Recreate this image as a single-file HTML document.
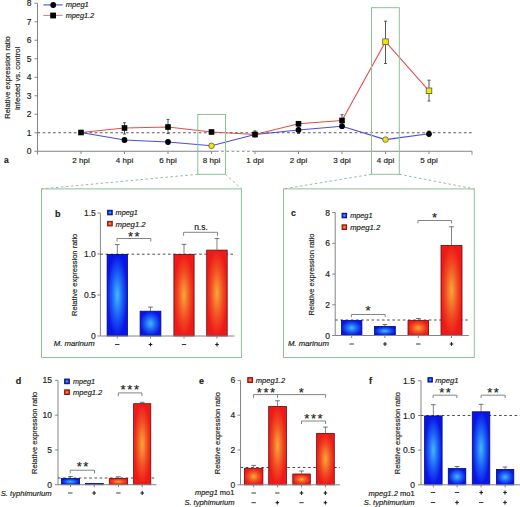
<!DOCTYPE html>
<html><head><meta charset="utf-8"><style>
html,body{margin:0;padding:0;background:#fff;width:520px;height:507px;overflow:hidden}
svg{display:block;font-family:"Liberation Sans", sans-serif}
</style></head><body>
<svg width="520" height="507" viewBox="0 0 520 507">
<defs>
<radialGradient id="gb" cx="0.5" cy="0.5" r="0.5"><stop offset="0" stop-color="#45b8ff"/><stop offset="0.55" stop-color="#1a5cf5"/><stop offset="1" stop-color="#0a14e6"/></radialGradient>
<radialGradient id="gr" cx="0.5" cy="0.5" r="0.5"><stop offset="0" stop-color="#f8a838"/><stop offset="0.6" stop-color="#f04a22"/><stop offset="1" stop-color="#ee1a1a"/></radialGradient>
</defs>
<line x1="37.5" y1="3.25" x2="37.5" y2="154.5" stroke="#838486" stroke-width="1" />
<line x1="34.5" y1="151.25" x2="37.5" y2="151.25" stroke="#838486" stroke-width="1" />
<text x="31.6" y="154.3" font-size="8.5" text-anchor="end" font-weight="normal" font-style="normal" fill="#231f20" stroke="#231f20" stroke-width="0.18" >0</text>
<line x1="34.5" y1="132.75" x2="37.5" y2="132.75" stroke="#838486" stroke-width="1" />
<text x="31.6" y="135.8" font-size="8.5" text-anchor="end" font-weight="normal" font-style="normal" fill="#231f20" stroke="#231f20" stroke-width="0.18" >1</text>
<line x1="34.5" y1="114.25" x2="37.5" y2="114.25" stroke="#838486" stroke-width="1" />
<text x="31.6" y="117.3" font-size="8.5" text-anchor="end" font-weight="normal" font-style="normal" fill="#231f20" stroke="#231f20" stroke-width="0.18" >2</text>
<line x1="34.5" y1="95.75" x2="37.5" y2="95.75" stroke="#838486" stroke-width="1" />
<text x="31.6" y="98.8" font-size="8.5" text-anchor="end" font-weight="normal" font-style="normal" fill="#231f20" stroke="#231f20" stroke-width="0.18" >3</text>
<line x1="34.5" y1="77.25" x2="37.5" y2="77.25" stroke="#838486" stroke-width="1" />
<text x="31.6" y="80.3" font-size="8.5" text-anchor="end" font-weight="normal" font-style="normal" fill="#231f20" stroke="#231f20" stroke-width="0.18" >4</text>
<line x1="34.5" y1="58.75" x2="37.5" y2="58.75" stroke="#838486" stroke-width="1" />
<text x="31.6" y="61.8" font-size="8.5" text-anchor="end" font-weight="normal" font-style="normal" fill="#231f20" stroke="#231f20" stroke-width="0.18" >5</text>
<line x1="34.5" y1="40.25" x2="37.5" y2="40.25" stroke="#838486" stroke-width="1" />
<text x="31.6" y="43.3" font-size="8.5" text-anchor="end" font-weight="normal" font-style="normal" fill="#231f20" stroke="#231f20" stroke-width="0.18" >6</text>
<line x1="34.5" y1="21.75" x2="37.5" y2="21.75" stroke="#838486" stroke-width="1" />
<text x="31.6" y="24.8" font-size="8.5" text-anchor="end" font-weight="normal" font-style="normal" fill="#231f20" stroke="#231f20" stroke-width="0.18" >7</text>
<line x1="34.5" y1="3.25" x2="37.5" y2="3.25" stroke="#838486" stroke-width="1" />
<text x="31.6" y="6.3" font-size="8.5" text-anchor="end" font-weight="normal" font-style="normal" fill="#231f20" stroke="#231f20" stroke-width="0.18" >8</text>
<line x1="37" y1="151.25" x2="472" y2="151.25" stroke="#838486" stroke-width="1" />
<line x1="472" y1="151.25" x2="472" y2="154.5" stroke="#838486" stroke-width="1" />
<line x1="81.0" y1="151.25" x2="81.0" y2="154" stroke="#838486" stroke-width="1" />
<text x="81.0" y="162.8" font-size="8" text-anchor="middle" font-weight="normal" font-style="normal" fill="#231f20" stroke="#231f20" stroke-width="0.18" >2 hpi</text>
<line x1="124.5" y1="151.25" x2="124.5" y2="154" stroke="#838486" stroke-width="1" />
<text x="124.5" y="162.8" font-size="8" text-anchor="middle" font-weight="normal" font-style="normal" fill="#231f20" stroke="#231f20" stroke-width="0.18" >4 hpi</text>
<line x1="168.0" y1="151.25" x2="168.0" y2="154" stroke="#838486" stroke-width="1" />
<text x="168.0" y="162.8" font-size="8" text-anchor="middle" font-weight="normal" font-style="normal" fill="#231f20" stroke="#231f20" stroke-width="0.18" >6 hpi</text>
<line x1="211.5" y1="151.25" x2="211.5" y2="154" stroke="#838486" stroke-width="1" />
<text x="211.5" y="162.8" font-size="8" text-anchor="middle" font-weight="normal" font-style="normal" fill="#231f20" stroke="#231f20" stroke-width="0.18" >8 hpi</text>
<line x1="255.0" y1="151.25" x2="255.0" y2="154" stroke="#838486" stroke-width="1" />
<text x="255.0" y="162.8" font-size="8" text-anchor="middle" font-weight="normal" font-style="normal" fill="#231f20" stroke="#231f20" stroke-width="0.18" >1 dpi</text>
<line x1="298.5" y1="151.25" x2="298.5" y2="154" stroke="#838486" stroke-width="1" />
<text x="298.5" y="162.8" font-size="8" text-anchor="middle" font-weight="normal" font-style="normal" fill="#231f20" stroke="#231f20" stroke-width="0.18" >2 dpi</text>
<line x1="342.0" y1="151.25" x2="342.0" y2="154" stroke="#838486" stroke-width="1" />
<text x="342.0" y="162.8" font-size="8" text-anchor="middle" font-weight="normal" font-style="normal" fill="#231f20" stroke="#231f20" stroke-width="0.18" >3 dpi</text>
<line x1="385.5" y1="151.25" x2="385.5" y2="154" stroke="#838486" stroke-width="1" />
<text x="385.5" y="162.8" font-size="8" text-anchor="middle" font-weight="normal" font-style="normal" fill="#231f20" stroke="#231f20" stroke-width="0.18" >4 dpi</text>
<line x1="429.0" y1="151.25" x2="429.0" y2="154" stroke="#838486" stroke-width="1" />
<text x="429.0" y="162.8" font-size="8" text-anchor="middle" font-weight="normal" font-style="normal" fill="#231f20" stroke="#231f20" stroke-width="0.18" >5 dpi</text>
<line x1="216" y1="151.25" x2="252" y2="151.25" stroke="#fff" stroke-width="1.6" stroke-dasharray="2.6 2.6" stroke-dashoffset="2.6"/>
<line x1="37.5" y1="132.75" x2="472" y2="132.75" stroke="#58585a" stroke-width="1" stroke-dasharray="2.6 2.6" />
<text x="4" y="162.7" font-size="8.5" text-anchor="start" font-weight="bold" font-style="normal" fill="#231f20" stroke="#231f20" stroke-width="0.18" >a</text>
<text x="9.6" y="77.5" font-size="7.5" text-anchor="middle" fill="#231f20" stroke="#231f20" stroke-width="0.18" textLength="82.6" lengthAdjust="spacingAndGlyphs" transform="rotate(-90 9.6 77.5)">Relative expression ratio</text>
<text x="19.9" y="78.5" font-size="7.5" text-anchor="middle" fill="#231f20" stroke="#231f20" stroke-width="0.18" textLength="63.2" lengthAdjust="spacingAndGlyphs" transform="rotate(-90 19.9 78.5)">infected vs. control</text>
<line x1="124.5" y1="122.8" x2="124.5" y2="134" stroke="#58595b" stroke-width="1" />
<line x1="123.0" y1="122.8" x2="126.0" y2="122.8" stroke="#58595b" stroke-width="1" />
<line x1="123.0" y1="134" x2="126.0" y2="134" stroke="#58595b" stroke-width="1" />
<line x1="168.0" y1="119.4" x2="168.0" y2="133.5" stroke="#58595b" stroke-width="1" />
<line x1="166.5" y1="119.4" x2="169.5" y2="119.4" stroke="#58595b" stroke-width="1" />
<line x1="166.5" y1="133.5" x2="169.5" y2="133.5" stroke="#58595b" stroke-width="1" />
<line x1="255.0" y1="130.8" x2="255.0" y2="136.5" stroke="#58595b" stroke-width="1" />
<line x1="253.5" y1="130.8" x2="256.5" y2="130.8" stroke="#58595b" stroke-width="1" />
<line x1="253.5" y1="136.5" x2="256.5" y2="136.5" stroke="#58595b" stroke-width="1" />
<line x1="298.5" y1="121.5" x2="298.5" y2="126" stroke="#58595b" stroke-width="1" />
<line x1="297.0" y1="121.5" x2="300.0" y2="121.5" stroke="#58595b" stroke-width="1" />
<line x1="297.0" y1="126" x2="300.0" y2="126" stroke="#58595b" stroke-width="1" />
<line x1="342.0" y1="114.7" x2="342.0" y2="126" stroke="#58595b" stroke-width="1" />
<line x1="340.5" y1="114.7" x2="343.5" y2="114.7" stroke="#58595b" stroke-width="1" />
<line x1="340.5" y1="126" x2="343.5" y2="126" stroke="#58595b" stroke-width="1" />
<line x1="385.5" y1="21.2" x2="385.5" y2="63.5" stroke="#58595b" stroke-width="1" />
<line x1="384.0" y1="21.2" x2="387.0" y2="21.2" stroke="#58595b" stroke-width="1" />
<line x1="384.0" y1="63.5" x2="387.0" y2="63.5" stroke="#58595b" stroke-width="1" />
<line x1="429.0" y1="80.2" x2="429.0" y2="101" stroke="#58595b" stroke-width="1" />
<line x1="427.5" y1="80.2" x2="430.5" y2="80.2" stroke="#58595b" stroke-width="1" />
<line x1="427.5" y1="101" x2="430.5" y2="101" stroke="#58595b" stroke-width="1" />
<line x1="298.5" y1="127" x2="298.5" y2="133.5" stroke="#58595b" stroke-width="1" />
<line x1="297.0" y1="127" x2="300.0" y2="127" stroke="#58595b" stroke-width="1" />
<line x1="297.0" y1="133.5" x2="300.0" y2="133.5" stroke="#58595b" stroke-width="1" />
<line x1="429.0" y1="131" x2="429.0" y2="136.5" stroke="#58595b" stroke-width="1" />
<line x1="427.5" y1="131" x2="430.5" y2="131" stroke="#58595b" stroke-width="1" />
<line x1="427.5" y1="136.5" x2="430.5" y2="136.5" stroke="#58595b" stroke-width="1" />
<line x1="255.0" y1="132" x2="255.0" y2="137" stroke="#58595b" stroke-width="1" />
<line x1="253.5" y1="132" x2="256.5" y2="132" stroke="#58595b" stroke-width="1" />
<line x1="253.5" y1="137" x2="256.5" y2="137" stroke="#58595b" stroke-width="1" />
<polyline points="81.0,132.5 124.5,140 168.0,142 211.5,145.8 255.0,134.5 298.5,130 342.0,126.2 385.5,139.6 429.0,133.8" fill="none" stroke="#4a4de0" stroke-width="1.1"/>
<polyline points="81.0,132.5 124.5,128 168.0,127 211.5,132 255.0,134.5 298.5,123.75 342.0,120.5 385.5,41.7 429.0,90.8" fill="none" stroke="#e0504a" stroke-width="1.1"/>
<circle cx="124.5" cy="140" r="2.9" fill="#000" stroke="none" stroke-width="0.8"/>
<circle cx="168.0" cy="142" r="2.9" fill="#000" stroke="none" stroke-width="0.8"/>
<circle cx="211.5" cy="145.8" r="2.8" fill="#f5e600" stroke="#58595b" stroke-width="0.8"/>
<circle cx="298.5" cy="130" r="2.9" fill="#000" stroke="none" stroke-width="0.8"/>
<circle cx="342.0" cy="126.2" r="2.9" fill="#000" stroke="none" stroke-width="0.8"/>
<circle cx="385.5" cy="139.6" r="2.8" fill="#f5e600" stroke="#58595b" stroke-width="0.8"/>
<circle cx="429.0" cy="133.8" r="2.9" fill="#000" stroke="none" stroke-width="0.8"/>
<rect x="78.2" y="129.7" width="5.6" height="5.6" fill="#000" stroke="none" stroke-width="0.8"/>
<rect x="121.7" y="125.2" width="5.6" height="5.6" fill="#000" stroke="none" stroke-width="0.8"/>
<rect x="165.2" y="124.2" width="5.6" height="5.6" fill="#000" stroke="none" stroke-width="0.8"/>
<rect x="208.7" y="129.2" width="5.6" height="5.6" fill="#000" stroke="none" stroke-width="0.8"/>
<rect x="252.2" y="131.7" width="5.6" height="5.6" fill="#000" stroke="none" stroke-width="0.8"/>
<rect x="295.7" y="120.95" width="5.6" height="5.6" fill="#000" stroke="none" stroke-width="0.8"/>
<rect x="339.2" y="117.7" width="5.6" height="5.6" fill="#000" stroke="none" stroke-width="0.8"/>
<rect x="382.7" y="38.900000000000006" width="5.6" height="5.6" fill="#f5e600" stroke="#58595b" stroke-width="0.8"/>
<rect x="426.2" y="88.0" width="5.6" height="5.6" fill="#f5e600" stroke="#58595b" stroke-width="0.8"/>
<line x1="43.4" y1="4.9" x2="62.6" y2="4.9" stroke="#4a4de0" stroke-width="1.1" />
<circle cx="53.2" cy="5.0" r="2.9" fill="#000"/>
<line x1="43.4" y1="15.4" x2="62.6" y2="15.4" stroke="#e08080" stroke-width="1.1" />
<rect x="50.2" y="12.6" width="5.8" height="5.8" fill="#000"/>
<text x="65.7" y="7.3" font-size="7.5" text-anchor="start" font-weight="normal" font-style="italic" fill="#231f20" stroke="#231f20" stroke-width="0.18" textLength="23.1" lengthAdjust="spacingAndGlyphs" >mpeg1</text>
<text x="65.7" y="17.9" font-size="7.5" text-anchor="start" font-weight="normal" font-style="italic" fill="#231f20" stroke="#231f20" stroke-width="0.18" textLength="28.5" lengthAdjust="spacingAndGlyphs" >mpeg1.2</text>
<rect x="197.8" y="114.5" width="27.7" height="59.8" fill="none" stroke="#8cc196" stroke-width="1"/>
<rect x="371.5" y="7.7" width="27.8" height="166.6" fill="none" stroke="#8cc196" stroke-width="1"/>
<line x1="197.8" y1="174.3" x2="41.5" y2="188.9" stroke="#8cc196" stroke-width="1" stroke-dasharray="2.5 2.5"/>
<line x1="225.5" y1="174.3" x2="241.4" y2="188.9" stroke="#8cc196" stroke-width="1" stroke-dasharray="2.5 2.5"/>
<line x1="371.5" y1="174.3" x2="283.5" y2="188.9" stroke="#8cc196" stroke-width="1" stroke-dasharray="2.5 2.5"/>
<line x1="399.3" y1="174.3" x2="474.3" y2="188.9" stroke="#8cc196" stroke-width="1" stroke-dasharray="2.5 2.5"/>
<rect x="41.5" y="188.9" width="199.9" height="168.6" fill="none" stroke="#8cc196" stroke-width="1"/>
<rect x="283.5" y="188.9" width="190.8" height="168.6" fill="none" stroke="#8cc196" stroke-width="1"/>
<line x1="100.4" y1="213.3" x2="100.4" y2="336" stroke="#838486" stroke-width="1" />
<line x1="97.4" y1="336" x2="100.4" y2="336" stroke="#838486" stroke-width="1" />
<text x="95.8" y="339.05" font-size="8.5" text-anchor="end" font-weight="normal" font-style="normal" fill="#231f20" stroke="#231f20" stroke-width="0.18" >0</text>
<line x1="97.4" y1="295.0" x2="100.4" y2="295.0" stroke="#838486" stroke-width="1" />
<text x="95.8" y="298.05" font-size="8.5" text-anchor="end" font-weight="normal" font-style="normal" fill="#231f20" stroke="#231f20" stroke-width="0.18" >0.5</text>
<line x1="97.4" y1="254.0" x2="100.4" y2="254.0" stroke="#838486" stroke-width="1" />
<text x="95.8" y="257.05" font-size="8.5" text-anchor="end" font-weight="normal" font-style="normal" fill="#231f20" stroke="#231f20" stroke-width="0.18" >1.0</text>
<line x1="97.4" y1="213.0" x2="100.4" y2="213.0" stroke="#838486" stroke-width="1" />
<text x="95.8" y="216.05" font-size="8.5" text-anchor="end" font-weight="normal" font-style="normal" fill="#231f20" stroke="#231f20" stroke-width="0.18" >1.5</text>
<line x1="100.4" y1="254.2" x2="234.4" y2="254.2" stroke="#4d4d4f" stroke-width="1" stroke-dasharray="2.6 2.6" />
<line x1="117.30000000000001" y1="244.6" x2="117.30000000000001" y2="254" stroke="#747577" stroke-width="0.9" />
<line x1="115.00000000000001" y1="244.6" x2="119.60000000000001" y2="244.6" stroke="#5d5e60" stroke-width="0.9" />
<rect x="107.10000000000001" y="254.4" width="20.400000000000002" height="81.6" fill="url(#gb)" stroke="#000a70" stroke-width="0.8"/>
<line x1="117.30000000000001" y1="336" x2="117.30000000000001" y2="338.5" stroke="#838486" stroke-width="1" />
<line x1="150.5" y1="307.1" x2="150.5" y2="310.8" stroke="#747577" stroke-width="0.9" />
<line x1="148.2" y1="307.1" x2="152.8" y2="307.1" stroke="#5d5e60" stroke-width="0.9" />
<rect x="140.1" y="311.2" width="20.800000000000022" height="24.79999999999999" fill="url(#gb)" stroke="#000a70" stroke-width="0.8"/>
<line x1="150.5" y1="336" x2="150.5" y2="338.5" stroke="#838486" stroke-width="1" />
<line x1="184.0" y1="244.4" x2="184.0" y2="254" stroke="#747577" stroke-width="0.9" />
<line x1="181.7" y1="244.4" x2="186.3" y2="244.4" stroke="#5d5e60" stroke-width="0.9" />
<rect x="173.9" y="254.4" width="20.2" height="81.6" fill="url(#gr)" stroke="#6a0c0c" stroke-width="0.8"/>
<line x1="184.0" y1="336" x2="184.0" y2="338.5" stroke="#838486" stroke-width="1" />
<line x1="216.95" y1="238.6" x2="216.95" y2="249.7" stroke="#747577" stroke-width="0.9" />
<line x1="214.64999999999998" y1="238.6" x2="219.25" y2="238.6" stroke="#5d5e60" stroke-width="0.9" />
<rect x="206.70000000000002" y="250.1" width="20.499999999999982" height="85.9" fill="url(#gr)" stroke="#6a0c0c" stroke-width="0.8"/>
<line x1="216.95" y1="336" x2="216.95" y2="338.5" stroke="#838486" stroke-width="1" />
<line x1="100.4" y1="336" x2="234.4" y2="336" stroke="#838486" stroke-width="1" />
<text x="55" y="216.8" font-size="9" text-anchor="start" font-weight="bold" font-style="normal" fill="#231f20" stroke="#231f20" stroke-width="0.18" >b</text>
<rect x="107.65" y="210.25" width="4.6" height="4.6" fill="url(#gb)" stroke="#000a60" stroke-width="0.9"/>
<rect x="107.65" y="221.35" width="4.6" height="4.6" fill="url(#gr)" stroke="#6a1008" stroke-width="0.9"/>
<text x="115.6" y="214.8" font-size="7.5" text-anchor="start" font-weight="normal" font-style="italic" fill="#231f20" stroke="#231f20" stroke-width="0.18" textLength="22.3" lengthAdjust="spacingAndGlyphs" >mpeg1</text>
<text x="115.6" y="226.8" font-size="7.5" text-anchor="start" font-weight="normal" font-style="italic" fill="#231f20" stroke="#231f20" stroke-width="0.18" textLength="30" lengthAdjust="spacingAndGlyphs" >mpeg1.2</text>
<path d="M117,241.5 V238.5 H150.8 V241.5" fill="none" stroke="#838486" stroke-width="1"/>
<text x="134.60000000000002" y="241.1" font-size="13" text-anchor="middle" font-weight="normal" font-style="normal" fill="#231f20" stroke="#231f20" stroke-width="0.18" letter-spacing="1.6">**</text>
<path d="M183.6,235.8 V232.3 H217.5 V235.8" fill="none" stroke="#838486" stroke-width="1"/>
<text x="201" y="229.6" font-size="8.5" text-anchor="middle" font-weight="normal" font-style="normal" fill="#231f20" stroke="#231f20" stroke-width="0.18" >n.s.</text>
<text x="76.8" y="315.9" font-size="7.5" text-anchor="start" fill="#231f20" stroke="#231f20" stroke-width="0.18" transform="rotate(-90 76.8 315.9)">Relative expression ratio</text>
<text x="53.7" y="346.4" font-size="7.5" text-anchor="start" font-weight="normal" font-style="italic" fill="#231f20" stroke="#231f20" stroke-width="0.18" textLength="40.9" lengthAdjust="spacingAndGlyphs" >M. marinum</text>
<line x1="115.1" y1="344.5" x2="119.5" y2="344.5" stroke="#3a3a3c" stroke-width="1.0" />
<line x1="148.7" y1="344.5" x2="152.3" y2="344.5" stroke="#231f20" stroke-width="1.1" />
<line x1="150.5" y1="342.6" x2="150.5" y2="346.4" stroke="#231f20" stroke-width="1.1" />
<line x1="181.8" y1="344.5" x2="186.2" y2="344.5" stroke="#3a3a3c" stroke-width="1.0" />
<line x1="215.2" y1="344.5" x2="218.8" y2="344.5" stroke="#231f20" stroke-width="1.1" />
<line x1="217" y1="342.6" x2="217" y2="346.4" stroke="#231f20" stroke-width="1.1" />
<line x1="335.2" y1="212.4" x2="335.2" y2="335.5" stroke="#838486" stroke-width="1" />
<line x1="332.2" y1="335.5" x2="335.2" y2="335.5" stroke="#838486" stroke-width="1" />
<text x="329.9" y="338.55" font-size="8.5" text-anchor="end" font-weight="normal" font-style="normal" fill="#231f20" stroke="#231f20" stroke-width="0.18" >0</text>
<line x1="332.2" y1="304.76" x2="335.2" y2="304.76" stroke="#838486" stroke-width="1" />
<text x="329.9" y="307.81" font-size="8.5" text-anchor="end" font-weight="normal" font-style="normal" fill="#231f20" stroke="#231f20" stroke-width="0.18" >2</text>
<line x1="332.2" y1="274.02" x2="335.2" y2="274.02" stroke="#838486" stroke-width="1" />
<text x="329.9" y="277.07" font-size="8.5" text-anchor="end" font-weight="normal" font-style="normal" fill="#231f20" stroke="#231f20" stroke-width="0.18" >4</text>
<line x1="332.2" y1="243.28" x2="335.2" y2="243.28" stroke="#838486" stroke-width="1" />
<text x="329.9" y="246.33" font-size="8.5" text-anchor="end" font-weight="normal" font-style="normal" fill="#231f20" stroke="#231f20" stroke-width="0.18" >6</text>
<line x1="332.2" y1="212.54000000000002" x2="335.2" y2="212.54000000000002" stroke="#838486" stroke-width="1" />
<text x="329.9" y="215.59000000000003" font-size="8.5" text-anchor="end" font-weight="normal" font-style="normal" fill="#231f20" stroke="#231f20" stroke-width="0.18" >8</text>
<line x1="335.2" y1="320" x2="468.8" y2="320" stroke="#4d4d4f" stroke-width="1" stroke-dasharray="2.6 2.6" />
<rect x="341.4" y="320.4" width="20.50000000000001" height="15.1" fill="url(#gb)" stroke="#000a70" stroke-width="0.8"/>
<line x1="351.65" y1="335.5" x2="351.65" y2="338.0" stroke="#838486" stroke-width="1" />
<line x1="384.9" y1="324.5" x2="384.9" y2="326" stroke="#747577" stroke-width="0.9" />
<line x1="382.59999999999997" y1="324.5" x2="387.2" y2="324.5" stroke="#5d5e60" stroke-width="0.9" />
<rect x="374.5" y="326.4" width="20.799999999999965" height="9.1" fill="url(#gb)" stroke="#000a70" stroke-width="0.8"/>
<line x1="384.9" y1="335.5" x2="384.9" y2="338.0" stroke="#838486" stroke-width="1" />
<line x1="418.3" y1="318.5" x2="418.3" y2="320.2" stroke="#747577" stroke-width="0.9" />
<line x1="416.0" y1="318.5" x2="420.6" y2="318.5" stroke="#5d5e60" stroke-width="0.9" />
<rect x="408.0" y="320.59999999999997" width="20.599999999999977" height="14.900000000000011" fill="url(#gr)" stroke="#6a0c0c" stroke-width="0.8"/>
<line x1="418.3" y1="335.5" x2="418.3" y2="338.0" stroke="#838486" stroke-width="1" />
<line x1="451.5" y1="226.8" x2="451.5" y2="245" stroke="#747577" stroke-width="0.9" />
<line x1="449.2" y1="226.8" x2="453.8" y2="226.8" stroke="#5d5e60" stroke-width="0.9" />
<rect x="441.0" y="245.4" width="20.999999999999954" height="90.1" fill="url(#gr)" stroke="#6a0c0c" stroke-width="0.8"/>
<line x1="451.5" y1="335.5" x2="451.5" y2="338.0" stroke="#838486" stroke-width="1" />
<line x1="335.2" y1="335.5" x2="468.8" y2="335.5" stroke="#838486" stroke-width="1" />
<text x="291" y="216.3" font-size="9" text-anchor="start" font-weight="bold" font-style="normal" fill="#231f20" stroke="#231f20" stroke-width="0.18" >c</text>
<rect x="342.05" y="213.25" width="4.6" height="4.6" fill="url(#gb)" stroke="#000a60" stroke-width="0.9"/>
<rect x="342.05" y="224.85" width="4.6" height="4.6" fill="url(#gr)" stroke="#6a1008" stroke-width="0.9"/>
<text x="350.2" y="218.3" font-size="7.5" text-anchor="start" font-weight="normal" font-style="italic" fill="#231f20" stroke="#231f20" stroke-width="0.18" textLength="22.3" lengthAdjust="spacingAndGlyphs" >mpeg1</text>
<text x="350.2" y="230.4" font-size="7.5" text-anchor="start" font-weight="normal" font-style="italic" fill="#231f20" stroke="#231f20" stroke-width="0.18" textLength="30" lengthAdjust="spacingAndGlyphs" >mpeg1.2</text>
<path d="M351.4,317.2 V314.5 H385.2 V317.2" fill="none" stroke="#838486" stroke-width="1"/>
<text x="368.8" y="315.20000000000005" font-size="13" text-anchor="middle" font-weight="normal" font-style="normal" fill="#231f20" stroke="#231f20" stroke-width="0.18" letter-spacing="1.6">*</text>
<path d="M417.9,223.3 V220.5 H451.6 V223.3" fill="none" stroke="#838486" stroke-width="1"/>
<text x="435.40000000000003" y="221.7" font-size="13" text-anchor="middle" font-weight="normal" font-style="normal" fill="#231f20" stroke="#231f20" stroke-width="0.18" letter-spacing="1.6">*</text>
<text x="314.5" y="315.6" font-size="7.5" text-anchor="start" fill="#231f20" stroke="#231f20" stroke-width="0.18" transform="rotate(-90 314.5 315.6)">Relative expression ratio</text>
<text x="287.9" y="345.6" font-size="7.5" text-anchor="start" font-weight="normal" font-style="italic" fill="#231f20" stroke="#231f20" stroke-width="0.18" textLength="41" lengthAdjust="spacingAndGlyphs" >M. marinum</text>
<line x1="349.5" y1="344" x2="353.9" y2="344" stroke="#3a3a3c" stroke-width="1.0" />
<line x1="383.2" y1="344" x2="386.8" y2="344" stroke="#231f20" stroke-width="1.1" />
<line x1="385" y1="342.1" x2="385" y2="345.9" stroke="#231f20" stroke-width="1.1" />
<line x1="416.1" y1="344" x2="420.5" y2="344" stroke="#3a3a3c" stroke-width="1.0" />
<line x1="449.7" y1="344" x2="453.3" y2="344" stroke="#231f20" stroke-width="1.1" />
<line x1="451.5" y1="342.1" x2="451.5" y2="345.9" stroke="#231f20" stroke-width="1.1" />
<line x1="58" y1="380.3" x2="58" y2="484.7" stroke="#838486" stroke-width="1" />
<line x1="55" y1="484.7" x2="58" y2="484.7" stroke="#838486" stroke-width="1" />
<text x="51.9" y="487.75" font-size="8.5" text-anchor="end" font-weight="normal" font-style="normal" fill="#231f20" stroke="#231f20" stroke-width="0.18" >0</text>
<line x1="55" y1="449.9" x2="58" y2="449.9" stroke="#838486" stroke-width="1" />
<text x="51.9" y="452.95" font-size="8.5" text-anchor="end" font-weight="normal" font-style="normal" fill="#231f20" stroke="#231f20" stroke-width="0.18" >5</text>
<line x1="55" y1="415.1" x2="58" y2="415.1" stroke="#838486" stroke-width="1" />
<text x="51.9" y="418.15000000000003" font-size="8.5" text-anchor="end" font-weight="normal" font-style="normal" fill="#231f20" stroke="#231f20" stroke-width="0.18" >10</text>
<line x1="55" y1="380.29999999999995" x2="58" y2="380.29999999999995" stroke="#838486" stroke-width="1" />
<text x="51.9" y="383.34999999999997" font-size="8.5" text-anchor="end" font-weight="normal" font-style="normal" fill="#231f20" stroke="#231f20" stroke-width="0.18" >15</text>
<line x1="58" y1="478" x2="156.5" y2="478" stroke="#4d4d4f" stroke-width="1" stroke-dasharray="2.6 2.6" />
<line x1="70.5" y1="476.5" x2="70.5" y2="478.2" stroke="#747577" stroke-width="0.9" />
<line x1="68.2" y1="476.5" x2="72.8" y2="476.5" stroke="#5d5e60" stroke-width="0.9" />
<rect x="61.4" y="478.59999999999997" width="18.2" height="6.1" fill="url(#gb)" stroke="#000a70" stroke-width="0.8"/>
<line x1="70.5" y1="484.7" x2="70.5" y2="487.2" stroke="#838486" stroke-width="1" />
<rect x="85.4" y="483.4" width="17.799999999999994" height="1.2999999999999887" fill="url(#gb)" stroke="#000a70" stroke-width="0.8"/>
<line x1="94.3" y1="484.7" x2="94.3" y2="487.2" stroke="#838486" stroke-width="1" />
<line x1="118.45" y1="476.8" x2="118.45" y2="478.2" stroke="#747577" stroke-width="0.9" />
<line x1="116.15" y1="476.8" x2="120.75" y2="476.8" stroke="#5d5e60" stroke-width="0.9" />
<rect x="109.30000000000001" y="478.59999999999997" width="18.299999999999994" height="6.1" fill="url(#gr)" stroke="#6a0c0c" stroke-width="0.8"/>
<line x1="118.45" y1="484.7" x2="118.45" y2="487.2" stroke="#838486" stroke-width="1" />
<line x1="142.2" y1="402.3" x2="142.2" y2="403.3" stroke="#747577" stroke-width="0.9" />
<line x1="139.89999999999998" y1="402.3" x2="144.5" y2="402.3" stroke="#5d5e60" stroke-width="0.9" />
<rect x="133.6" y="403.7" width="17.2" height="80.99999999999997" fill="url(#gr)" stroke="#6a0c0c" stroke-width="0.8"/>
<line x1="142.2" y1="484.7" x2="142.2" y2="487.2" stroke="#838486" stroke-width="1" />
<line x1="58" y1="484.7" x2="156.5" y2="484.7" stroke="#838486" stroke-width="1" />
<text x="15.8" y="383.5" font-size="9" text-anchor="start" font-weight="bold" font-style="normal" fill="#231f20" stroke="#231f20" stroke-width="0.18" >d</text>
<rect x="64.65" y="379.05" width="4.699999999999999" height="4.699999999999999" fill="url(#gb)" stroke="#000a60" stroke-width="0.9"/>
<rect x="64.65" y="389.84999999999997" width="4.699999999999999" height="4.699999999999999" fill="url(#gr)" stroke="#6a1008" stroke-width="0.9"/>
<text x="73" y="383.9" font-size="7.5" text-anchor="start" font-weight="normal" font-style="italic" fill="#231f20" stroke="#231f20" stroke-width="0.18" textLength="22.1" lengthAdjust="spacingAndGlyphs" >mpeg1</text>
<text x="73" y="394.6" font-size="7.5" text-anchor="start" font-weight="normal" font-style="italic" fill="#231f20" stroke="#231f20" stroke-width="0.18" textLength="29.3" lengthAdjust="spacingAndGlyphs" >mpeg1.2</text>
<path d="M70.2,473.4 V470.2 H94.5 V473.4" fill="none" stroke="#838486" stroke-width="1"/>
<text x="83.3" y="471.40000000000003" font-size="13" text-anchor="middle" font-weight="normal" font-style="normal" fill="#231f20" stroke="#231f20" stroke-width="0.18" letter-spacing="1.6">**</text>
<path d="M118.3,396.09999999999997 V392.9 H141.9 V396.09999999999997" fill="none" stroke="#838486" stroke-width="1"/>
<text x="130.60000000000002" y="394.1" font-size="13" text-anchor="middle" font-weight="normal" font-style="normal" fill="#231f20" stroke="#231f20" stroke-width="0.18" letter-spacing="1.6">***</text>
<text x="36.8" y="473.9" font-size="7.5" text-anchor="start" fill="#231f20" stroke="#231f20" stroke-width="0.18" transform="rotate(-90 36.8 473.9)">Relative expression ratio</text>
<text x="0.8" y="496" font-size="7.5" text-anchor="start" font-weight="normal" font-style="italic" fill="#231f20" stroke="#231f20" stroke-width="0.18" textLength="50.7" lengthAdjust="spacingAndGlyphs" >S. typhimurium</text>
<line x1="68.1" y1="493" x2="72.5" y2="493" stroke="#3a3a3c" stroke-width="1.0" />
<line x1="92.3" y1="493" x2="95.89999999999999" y2="493" stroke="#231f20" stroke-width="1.1" />
<line x1="94.1" y1="491.1" x2="94.1" y2="494.9" stroke="#231f20" stroke-width="1.1" />
<line x1="116.2" y1="493" x2="120.60000000000001" y2="493" stroke="#3a3a3c" stroke-width="1.0" />
<line x1="140.39999999999998" y1="493" x2="144.0" y2="493" stroke="#231f20" stroke-width="1.1" />
<line x1="142.2" y1="491.1" x2="142.2" y2="494.9" stroke="#231f20" stroke-width="1.1" />
<line x1="240.5" y1="380.3" x2="240.5" y2="484.8" stroke="#838486" stroke-width="1" />
<line x1="237.5" y1="484.8" x2="240.5" y2="484.8" stroke="#838486" stroke-width="1" />
<text x="235.2" y="487.85" font-size="8.5" text-anchor="end" font-weight="normal" font-style="normal" fill="#231f20" stroke="#231f20" stroke-width="0.18" >0</text>
<line x1="237.5" y1="450.0" x2="240.5" y2="450.0" stroke="#838486" stroke-width="1" />
<text x="235.2" y="453.05" font-size="8.5" text-anchor="end" font-weight="normal" font-style="normal" fill="#231f20" stroke="#231f20" stroke-width="0.18" >2</text>
<line x1="237.5" y1="415.20000000000005" x2="240.5" y2="415.20000000000005" stroke="#838486" stroke-width="1" />
<text x="235.2" y="418.25000000000006" font-size="8.5" text-anchor="end" font-weight="normal" font-style="normal" fill="#231f20" stroke="#231f20" stroke-width="0.18" >4</text>
<line x1="237.5" y1="380.40000000000003" x2="240.5" y2="380.40000000000003" stroke="#838486" stroke-width="1" />
<text x="235.2" y="383.45000000000005" font-size="8.5" text-anchor="end" font-weight="normal" font-style="normal" fill="#231f20" stroke="#231f20" stroke-width="0.18" >6</text>
<line x1="240.5" y1="467.5" x2="339.9" y2="467.5" stroke="#4d4d4f" stroke-width="1" stroke-dasharray="2.6 2.6" />
<line x1="253.65" y1="465.4" x2="253.65" y2="467.9" stroke="#747577" stroke-width="0.9" />
<line x1="251.35" y1="465.4" x2="255.95000000000002" y2="465.4" stroke="#5d5e60" stroke-width="0.9" />
<rect x="244.4" y="468.29999999999995" width="18.50000000000001" height="16.500000000000036" fill="url(#gr)" stroke="#6a0c0c" stroke-width="0.8"/>
<line x1="253.65" y1="484.8" x2="253.65" y2="487.3" stroke="#838486" stroke-width="1" />
<line x1="277.55" y1="400.8" x2="277.55" y2="406" stroke="#747577" stroke-width="0.9" />
<line x1="275.25" y1="400.8" x2="279.85" y2="400.8" stroke="#5d5e60" stroke-width="0.9" />
<rect x="268.7" y="406.4" width="17.7" height="78.4" fill="url(#gr)" stroke="#6a0c0c" stroke-width="0.8"/>
<line x1="277.55" y1="484.8" x2="277.55" y2="487.3" stroke="#838486" stroke-width="1" />
<line x1="301.54999999999995" y1="471" x2="301.54999999999995" y2="473.6" stroke="#747577" stroke-width="0.9" />
<line x1="299.24999999999994" y1="471" x2="303.84999999999997" y2="471" stroke="#5d5e60" stroke-width="0.9" />
<rect x="292.79999999999995" y="474.0" width="17.50000000000001" height="10.799999999999988" fill="url(#gr)" stroke="#6a0c0c" stroke-width="0.8"/>
<line x1="301.54999999999995" y1="484.8" x2="301.54999999999995" y2="487.3" stroke="#838486" stroke-width="1" />
<line x1="325.45" y1="427.1" x2="325.45" y2="433" stroke="#747577" stroke-width="0.9" />
<line x1="323.15" y1="427.1" x2="327.75" y2="427.1" stroke="#5d5e60" stroke-width="0.9" />
<rect x="316.59999999999997" y="433.4" width="17.7" height="51.40000000000001" fill="url(#gr)" stroke="#6a0c0c" stroke-width="0.8"/>
<line x1="325.45" y1="484.8" x2="325.45" y2="487.3" stroke="#838486" stroke-width="1" />
<line x1="240.5" y1="484.8" x2="339.9" y2="484.8" stroke="#838486" stroke-width="1" />
<text x="198.9" y="384.2" font-size="9" text-anchor="start" font-weight="bold" font-style="normal" fill="#231f20" stroke="#231f20" stroke-width="0.18" >e</text>
<rect x="247.75" y="377.65" width="4.8999999999999995" height="4.8999999999999995" fill="url(#gr)" stroke="#6a1008" stroke-width="0.9"/>
<text x="255.8" y="383.2" font-size="7.5" text-anchor="start" font-weight="normal" font-style="italic" fill="#231f20" stroke="#231f20" stroke-width="0.18" textLength="29.4" lengthAdjust="spacingAndGlyphs" >mpeg1.2</text>
<path d="M253.5,397.90000000000003 V394.6 H325.6 V397.90000000000003 M277.5,394.6 V397.90000000000003" fill="none" stroke="#838486" stroke-width="1"/>
<text x="266.8" y="397.40000000000003" font-size="13" text-anchor="middle" font-weight="normal" font-style="normal" fill="#231f20" stroke="#231f20" stroke-width="0.18" letter-spacing="1.6">***</text>
<text x="302.0" y="397.40000000000003" font-size="13" text-anchor="middle" font-weight="normal" font-style="normal" fill="#231f20" stroke="#231f20" stroke-width="0.18" letter-spacing="1.6">*</text>
<path d="M301.5,424 V421 H325.6 V424" fill="none" stroke="#838486" stroke-width="1"/>
<text x="314.3" y="423.40000000000003" font-size="13" text-anchor="middle" font-weight="normal" font-style="normal" fill="#231f20" stroke="#231f20" stroke-width="0.18" letter-spacing="1.6">***</text>
<text x="219.7" y="474.2" font-size="7.5" text-anchor="start" fill="#231f20" stroke="#231f20" stroke-width="0.18" transform="rotate(-90 219.7 474.2)">Relative expression ratio</text>
<text x="195" y="495.3" font-size="7.5" fill="#231f20" stroke="#231f20" stroke-width="0.18" textLength="39.4" lengthAdjust="spacingAndGlyphs"><tspan font-style="italic">mpeg1</tspan> mo1</text>
<text x="184.4" y="505" font-size="7.5" text-anchor="start" font-weight="normal" font-style="italic" fill="#231f20" stroke="#231f20" stroke-width="0.18" textLength="50" lengthAdjust="spacingAndGlyphs" >S. typhimurium</text>
<line x1="251.5" y1="493" x2="255.89999999999998" y2="493" stroke="#3a3a3c" stroke-width="1.0" />
<line x1="275.1" y1="493" x2="279.5" y2="493" stroke="#3a3a3c" stroke-width="1.0" />
<line x1="299.7" y1="493" x2="303.3" y2="493" stroke="#231f20" stroke-width="1.1" />
<line x1="301.5" y1="491.1" x2="301.5" y2="494.9" stroke="#231f20" stroke-width="1.1" />
<line x1="323.59999999999997" y1="493" x2="327.2" y2="493" stroke="#231f20" stroke-width="1.1" />
<line x1="325.4" y1="491.1" x2="325.4" y2="494.9" stroke="#231f20" stroke-width="1.1" />
<line x1="251.5" y1="502.7" x2="255.89999999999998" y2="502.7" stroke="#3a3a3c" stroke-width="1.0" />
<line x1="275.5" y1="502.7" x2="279.1" y2="502.7" stroke="#231f20" stroke-width="1.1" />
<line x1="277.3" y1="500.8" x2="277.3" y2="504.59999999999997" stroke="#231f20" stroke-width="1.1" />
<line x1="299.3" y1="502.7" x2="303.7" y2="502.7" stroke="#3a3a3c" stroke-width="1.0" />
<line x1="323.59999999999997" y1="502.7" x2="327.2" y2="502.7" stroke="#231f20" stroke-width="1.1" />
<line x1="325.4" y1="500.8" x2="325.4" y2="504.59999999999997" stroke="#231f20" stroke-width="1.1" />
<line x1="421" y1="380.3" x2="421" y2="484.8" stroke="#838486" stroke-width="1" />
<line x1="418" y1="484.8" x2="421" y2="484.8" stroke="#838486" stroke-width="1" />
<text x="414.9" y="487.85" font-size="8.5" text-anchor="end" font-weight="normal" font-style="normal" fill="#231f20" stroke="#231f20" stroke-width="0.18" >0</text>
<line x1="418" y1="450.15000000000003" x2="421" y2="450.15000000000003" stroke="#838486" stroke-width="1" />
<text x="414.9" y="453.20000000000005" font-size="8.5" text-anchor="end" font-weight="normal" font-style="normal" fill="#231f20" stroke="#231f20" stroke-width="0.18" >0.5</text>
<line x1="418" y1="415.5" x2="421" y2="415.5" stroke="#838486" stroke-width="1" />
<text x="414.9" y="418.55" font-size="8.5" text-anchor="end" font-weight="normal" font-style="normal" fill="#231f20" stroke="#231f20" stroke-width="0.18" >1.0</text>
<line x1="418" y1="380.85" x2="421" y2="380.85" stroke="#838486" stroke-width="1" />
<text x="414.9" y="383.90000000000003" font-size="8.5" text-anchor="end" font-weight="normal" font-style="normal" fill="#231f20" stroke="#231f20" stroke-width="0.18" >1.5</text>
<line x1="421" y1="415.5" x2="520" y2="415.5" stroke="#4d4d4f" stroke-width="1" stroke-dasharray="2.6 2.6" />
<line x1="433.35" y1="404.7" x2="433.35" y2="415.5" stroke="#747577" stroke-width="0.9" />
<line x1="431.05" y1="404.7" x2="435.65000000000003" y2="404.7" stroke="#5d5e60" stroke-width="0.9" />
<rect x="424.59999999999997" y="415.9" width="17.50000000000001" height="68.9" fill="url(#gb)" stroke="#000a70" stroke-width="0.8"/>
<line x1="433.35" y1="484.8" x2="433.35" y2="487.3" stroke="#838486" stroke-width="1" />
<line x1="457.04999999999995" y1="466.5" x2="457.04999999999995" y2="468.1" stroke="#747577" stroke-width="0.9" />
<line x1="454.74999999999994" y1="466.5" x2="459.34999999999997" y2="466.5" stroke="#5d5e60" stroke-width="0.9" />
<rect x="448.29999999999995" y="468.5" width="17.50000000000001" height="16.29999999999999" fill="url(#gb)" stroke="#000a70" stroke-width="0.8"/>
<line x1="457.04999999999995" y1="484.8" x2="457.04999999999995" y2="487.3" stroke="#838486" stroke-width="1" />
<line x1="481.04999999999995" y1="404.3" x2="481.04999999999995" y2="411.4" stroke="#747577" stroke-width="0.9" />
<line x1="478.74999999999994" y1="404.3" x2="483.34999999999997" y2="404.3" stroke="#5d5e60" stroke-width="0.9" />
<rect x="472.29999999999995" y="411.79999999999995" width="17.50000000000001" height="73.00000000000003" fill="url(#gb)" stroke="#000a70" stroke-width="0.8"/>
<line x1="481.04999999999995" y1="484.8" x2="481.04999999999995" y2="487.3" stroke="#838486" stroke-width="1" />
<line x1="505.1" y1="467" x2="505.1" y2="469" stroke="#747577" stroke-width="0.9" />
<line x1="502.8" y1="467" x2="507.40000000000003" y2="467" stroke="#5d5e60" stroke-width="0.9" />
<rect x="496.4" y="469.4" width="17.400000000000045" height="15.400000000000011" fill="url(#gb)" stroke="#000a70" stroke-width="0.8"/>
<line x1="505.1" y1="484.8" x2="505.1" y2="487.3" stroke="#838486" stroke-width="1" />
<line x1="421" y1="484.8" x2="520" y2="484.8" stroke="#838486" stroke-width="1" />
<text x="368.9" y="383.5" font-size="9" text-anchor="start" font-weight="bold" font-style="normal" fill="#231f20" stroke="#231f20" stroke-width="0.18" >f</text>
<rect x="427.95" y="377.65" width="4.3999999999999995" height="4.3999999999999995" fill="url(#gb)" stroke="#000a60" stroke-width="0.9"/>
<text x="435.2" y="383.2" font-size="7.5" text-anchor="start" font-weight="normal" font-style="italic" fill="#231f20" stroke="#231f20" stroke-width="0.18" textLength="23.2" lengthAdjust="spacingAndGlyphs" >mpeg1</text>
<path d="M433.1,398.0 V395.2 H456.8 V398.0" fill="none" stroke="#838486" stroke-width="1"/>
<text x="445.8" y="396.6" font-size="13" text-anchor="middle" font-weight="normal" font-style="normal" fill="#231f20" stroke="#231f20" stroke-width="0.18" letter-spacing="1.6">**</text>
<path d="M481.1,398.0 V395.2 H505.1 V398.0" fill="none" stroke="#838486" stroke-width="1"/>
<text x="493.8" y="396.6" font-size="13" text-anchor="middle" font-weight="normal" font-style="normal" fill="#231f20" stroke="#231f20" stroke-width="0.18" letter-spacing="1.6">**</text>
<text x="399.7" y="474.2" font-size="7.5" text-anchor="start" fill="#231f20" stroke="#231f20" stroke-width="0.18" transform="rotate(-90 399.7 474.2)">Relative expression ratio</text>
<text x="368.5" y="496" font-size="7.5" fill="#231f20" stroke="#231f20" stroke-width="0.18" textLength="46.1" lengthAdjust="spacingAndGlyphs"><tspan font-style="italic">mpeg1.2</tspan> mo1</text>
<text x="363.8" y="505.3" font-size="7.5" text-anchor="start" font-weight="normal" font-style="italic" fill="#231f20" stroke="#231f20" stroke-width="0.18" textLength="50.8" lengthAdjust="spacingAndGlyphs" >S. typhimurium</text>
<line x1="430.8" y1="492.5" x2="435.2" y2="492.5" stroke="#3a3a3c" stroke-width="1.0" />
<line x1="454.8" y1="492.5" x2="459.2" y2="492.5" stroke="#3a3a3c" stroke-width="1.0" />
<line x1="479.4" y1="492.5" x2="483.0" y2="492.5" stroke="#231f20" stroke-width="1.1" />
<line x1="481.2" y1="490.6" x2="481.2" y2="494.4" stroke="#231f20" stroke-width="1.1" />
<line x1="503.2" y1="492.5" x2="506.8" y2="492.5" stroke="#231f20" stroke-width="1.1" />
<line x1="505" y1="490.6" x2="505" y2="494.4" stroke="#231f20" stroke-width="1.1" />
<line x1="430.8" y1="502.5" x2="435.2" y2="502.5" stroke="#3a3a3c" stroke-width="1.0" />
<line x1="455.2" y1="502.5" x2="458.8" y2="502.5" stroke="#231f20" stroke-width="1.1" />
<line x1="457" y1="500.6" x2="457" y2="504.4" stroke="#231f20" stroke-width="1.1" />
<line x1="479.0" y1="502.5" x2="483.4" y2="502.5" stroke="#3a3a3c" stroke-width="1.0" />
<line x1="503.2" y1="502.5" x2="506.8" y2="502.5" stroke="#231f20" stroke-width="1.1" />
<line x1="505" y1="500.6" x2="505" y2="504.4" stroke="#231f20" stroke-width="1.1" />
</svg>
</body></html>
